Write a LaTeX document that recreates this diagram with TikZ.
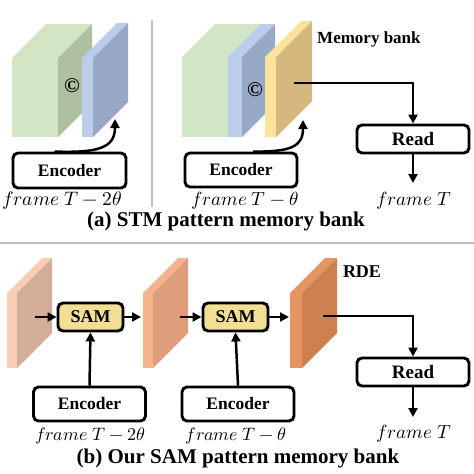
\documentclass[tikz,border=0pt]{standalone}
\usepackage{fontspec}
\usepackage{unicode-math}
\setmainfont{Liberation Serif}
\setmathfont{Latin Modern Math}
\usetikzlibrary{arrows.meta,calc}
\definecolor{gfront}{HTML}{D2E6C6}
\definecolor{gside}{HTML}{AEBFA2}
\definecolor{bfront}{HTML}{BCCDEB}
\definecolor{bside}{HTML}{98A9C6}
\definecolor{yfront}{HTML}{FBE39B}
\definecolor{yside}{HTML}{D5B87D}
\definecolor{p1front}{HTML}{F8CDB4}
\definecolor{p1side}{HTML}{D4AD99}
\definecolor{p2front}{HTML}{F5B48E}
\definecolor{p2side}{HTML}{DF9E7B}
\definecolor{p3front}{HTML}{E39563}
\definecolor{p3side}{HTML}{CE8051}
\definecolor{samfill}{HTML}{F3DE96}
\definecolor{sepgray}{HTML}{BDBDBD}
\tikzset{
  box/.style={draw, line width=2.9pt, rounded corners=5pt, fill=white, inner sep=0pt,
    font=\bfseries\fontsize{17.5}{20}\selectfont},
  readbox/.style={box, minimum width=112pt, minimum height=28pt, font=\bfseries\fontsize{19}{22}\selectfont},
  encbox/.style={box, minimum width=112pt, minimum height=34pt},
  sambox/.style={box, fill=samfill, minimum width=65pt, minimum height=28pt, font=\bfseries\fontsize{18}{21}\selectfont},
  arr/.style={line width=2.5pt, -{Triangle[length=9pt,width=9pt]}},
  lbl/.style={font=\fontsize{18}{21}\selectfont, inner sep=0pt},
  ttl/.style={font=\bfseries\fontsize{21}{24}\selectfont, inner sep=0pt},
  sep/.style={draw=sepgray, line width=1.2pt}
}
% plate: #1 front left x, #2 front right x, #3 top y, #4 bottom y, #5 depth, #6 front col, #7 side col
\newcommand{\plate}[7]{%
  \fill[#6] (#1,#3) -- ++(#5,-#5) -- ($(#2,#3)+(#5,-#5)$) -- (#2,#3) -- cycle;
  \fill[#6] (#1,#3) rectangle (#2,#4);
  \fill[#7] (#2,#3) -- ++(#5,-#5) -- ($(#2,#4)+(#5,-#5)$) -- (#2,#4) -- cycle;
}
\begin{document}
\begin{tikzpicture}[x=1pt,y=-1pt]
\useasboundingbox (0,0) rectangle (474,474);
\fill[white] (0,0) rectangle (474,474);
% separators
\draw[sep] (152,20) -- (152,207);
\draw[sep] (0,243) -- (474,243);
% ---- (a) left
\plate{12}{58}{58}{137}{34}{gfront}{gside}
\plate{82}{93}{58}{137}{35}{bfront}{bside}
\node[font=\bfseries\fontsize{21}{22}\selectfont, inner sep=0pt] (c1) at (72,86) {©};
\node[encbox, minimum width=113pt, minimum height=35pt] (enc1) at (69.5,170.5) {Encoder};
\coordinate (tgt1) at (115,119);
\draw[arr] ([xshift=-15pt]enc1.north) .. controls (98,153) and (115,148) .. (tgt1);
\node[lbl, font=\fontsize{19.5}{22}\selectfont] (f1) at (62,201) {$frame\ T-2\theta$};
% ---- (a) middle
\plate{182}{228}{57}{137}{33}{gfront}{gside}
\plate{228}{242}{57}{137}{33}{bfront}{bside}
\node[font=\bfseries\fontsize{21}{22}\selectfont, inner sep=0pt] (c2) at (255,90) {©};
\plate{265}{276}{57}{137}{36}{yfront}{yside}
\node[font=\bfseries\fontsize{17}{20}\selectfont, inner sep=0pt, anchor=west] (mb) at (317,39) {Memory bank};
\node[encbox] (enc2) at (241,170) {Encoder};
\coordinate (tgt2) at (303,120);
\draw[arr] ([xshift=12pt]enc2.north) .. controls (292,152) and (303,146) .. (tgt2);
\node[lbl, font=\fontsize{19}{22}\selectfont] (f2) at (245,201) {$frame\ T-\theta$};
% ---- (a) right
\node[readbox] (read1) at (413,139) {Read};
\coordinate (mbout) at (294,83);
\draw[arr] (mbout) -| (read1.north);
\coordinate (out1) at (413,183);
\draw[arr] (read1.south) -- (out1);
\node[lbl, font=\fontsize{19}{22}\selectfont] (f3) at (414,201) {$frame\ T$};
\node[ttl] (ta) at (226,221) {(a) STM pattern memory bank};
% ---- (b)
\plate{7}{17}{293}{368}{35}{p1front}{p1side}
\plate{143}{153}{293}{368}{35}{p2front}{p2side}
\plate{290}{302}{293}{368}{35}{p3front}{p3side}
\node[font=\bfseries\fontsize{18}{21}\selectfont, inner sep=0pt] (rde) at (362,272) {RDE};
\node[sambox] (sam1) at (90.5,317) {SAM};
\node[sambox] (sam2) at (235.5,317) {SAM};
\node[encbox] (enc3) at (89.5,404) {Encoder};
\node[encbox] (enc4) at (238,404) {Encoder};
\node[readbox] (read2) at (413,372) {Read};
\coordinate (p1o) at (35,317);
\coordinate (p2i) at (141,317);
\coordinate (p2o) at (180,317);
\coordinate (p3i) at (289,317);
\coordinate (p3o) at (323,316);
\coordinate (out2) at (413,417);
\draw[arr] (p1o) -- (sam1.west);
\draw[arr] (sam1.east) -- (p2i);
\draw[arr] (p2o) -- (sam2.west);
\draw[arr] (sam2.east) -- (p3i);
\draw[arr] (enc3.north) -- (sam1.south);
\draw[arr] (enc4.north) -- (sam2.south);
\draw[arr] (p3o) -| (read2.north);
\draw[arr] (read2.south) -- (out2);
\node[lbl] (f4) at (90,436) {$frame\ T-2\theta$};
\node[lbl] (f5) at (236,436) {$frame\ T-\theta$};
\node[lbl, font=\fontsize{19}{22}\selectfont] (f6) at (414,434) {$frame\ T$};
\node[ttl] (tb) at (238,458) {(b) Our SAM pattern memory bank};
\end{tikzpicture}
\end{document}
